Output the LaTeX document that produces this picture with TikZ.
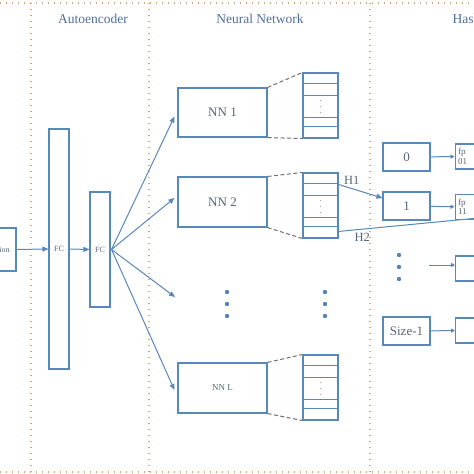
\documentclass[tikz,border=0pt]{standalone}
\usepackage{xcolor}
\usepackage{fontspec}
\setmainfont{Liberation Serif}
\usepackage{tikz}
\usetikzlibrary{arrows.meta, positioning}

\definecolor{lineblue}{RGB}{88,135,185}
\definecolor{txtgray}{RGB}{85,100,120}
\definecolor{hdrblue}{RGB}{80,110,150}
\definecolor{sepdot}{RGB}{210,170,120}
\definecolor{dashgray}{RGB}{110,110,110}
\definecolor{dotblue}{RGB}{85,130,190}

\begin{document}
\begin{tikzpicture}[x=1pt, y=1pt]

\tikzset{
  box/.style      = {rectangle, draw=lineblue, line width=1.1pt, inner sep=0pt,
                     text=txtgray},
  nnbox/.style    = {box, minimum width=89pt, minimum height=49pt,
                     font=\fontsize{13}{15}\selectfont},
  fcbox/.style    = {box, minimum width=20pt, font=\fontsize{8}{9}\selectfont},
  stackbox/.style = {box, minimum width=35pt, minimum height=65pt},
  hashbox/.style  = {box, minimum width=47pt, minimum height=28pt,
                     font=\fontsize{13}{15}\selectfont},
  fpbox/.style    = {box, anchor=west, minimum height=25pt, text width=24pt,
                     inner xsep=3pt, align=left, font=\fontsize{9}{9.5}\selectfont},
  arr/.style      = {-{Triangle[length=6pt,width=5pt]}, line width=1pt, lineblue},
  sarr/.style     = {-{Triangle[length=4pt,width=4pt]}, line width=1pt, lineblue},
  darr/.style     = {line width=1pt, dashgray, dash pattern=on 4pt off 2.5pt},
  sep/.style      = {line width=1.2pt, sepdot, dash pattern=on 1.2pt off 4.8pt},
  hdr/.style      = {font=\fontsize{13.5}{15}\selectfont, text=hdrblue},
  hlbl/.style     = {font=\fontsize{12.5}{14}\selectfont, text=txtgray}
}

\useasboundingbox (0,0) rectangle (474,-474);
\clip (0,0) rectangle (474,-474);

%% ── Column separators ───────────────────────────────────────────
\draw[sep] (0,-3)   -- (474,-3);
\draw[sep] (0,-472) -- (474,-472);
\foreach \x in {31,149,370}
  \draw[sep] (\x,-3) -- (\x,-472);

%% ── Column labels ───────────────────────────────────────────────
\node[hdr] at (93,  -19) {Autoencoder};
\node[hdr] at (260, -19) {Neural Network};
\node[hdr] at (483, -19) {Hash Table};

%% ── Autoencoder ─────────────────────────────────────────────────
\node[box, minimum width=59pt, minimum height=43pt,
      font=\fontsize{8}{9}\selectfont] (input) at (-13.5, -249.5) {Concatenation};
\node[fcbox, minimum height=240pt] (fc1) at (59,  -249)   {FC};
\node[fcbox, minimum height=115pt] (fc2) at (100, -249.5) {FC};

%% ── Neural networks ─────────────────────────────────────────────
\node[nnbox] (nn1) at (222.5, -112.5) {NN 1};
\node[nnbox, minimum height=50pt] (nn2) at (222.5, -202) {NN 2};
\node[nnbox, minimum height=50pt, font=\fontsize{9}{10}\selectfont]
      (nnL) at (222.5, -388) {NN L};
\coordinate (nndots) at (175, -297);

%% ── Output vectors ──────────────────────────────────────────────
\node[stackbox] (stack1) at (320.5, -105.5) {};
\node[stackbox] (stack2) at (320.5, -205.5) {};
\node[stackbox] (stackL) at (320.5, -387.5) {};
\foreach \s in {stack1,stack2,stackL} {
  \foreach \d in {11,23,45,54}
    \draw[lineblue, line width=1pt] ([yshift=-\d pt]\s.north west) -- ([yshift=-\d pt]\s.north east);
  \foreach \d in {28,34,40}
    \fill[black!35] ([yshift=-\d pt]\s.north) circle (0.6pt);
}

%% ── Vertical dots ───────────────────────────────────────────────
\foreach \x/\y in {227/292, 325/292, 399/255} {
  \foreach \k in {0,1,2}
    \fill[dotblue] (\x, -\y - 12*\k) circle (2.2pt);
}

%% ── Hash table ──────────────────────────────────────────────────
\node[hashbox] (hash0) at (406.5, -157) {0};
\node[hashbox] (hash1) at (406.5, -206) {1};
\node[hashbox] (hashS) at (406.5, -331) {Size-1};
\coordinate (hdots) at (429, -265);

\node[fpbox] (fp0) at (454.5, -156.5) {fp\\01};
\node[fpbox] (fp1) at (454.5, -207)   {fp\\11};
\node[fpbox] (fp2) at (455,   -268.5) {\phantom{fp}\\\phantom{00}};
\node[fpbox] (fp3) at (455,   -330.5) {\phantom{fp}\\\phantom{00}};
\coordinate (h2end) at (520, -214);

%% ── Arrows: autoencoder ─────────────────────────────────────────
\draw[arr] (input.east) -- (fc1.west);
\draw[arr] (fc1.east)   -- (fc2.west);

%% ── Arrows: fan out to networks ─────────────────────────────────
\draw[arr] ([xshift=1pt]fc2.east) -- ([xshift=-3pt,yshift=-4pt]nn1.west);
\draw[arr] ([xshift=1pt]fc2.east) -- ([xshift=-3pt,yshift=4pt]nn2.west);
\draw[arr] ([xshift=1pt]fc2.east) -- (nndots);
\draw[arr] ([xshift=1pt]fc2.east) -- ([xshift=-3pt,yshift=-2pt]nnL.west);

%% ── Dashed zoom lines ───────────────────────────────────────────
\foreach \n/\s in {nn1/stack1, nn2/stack2, nnL/stackL} {
  \draw[darr] (\n.north east) -- (\s.north west);
  \draw[darr] (\n.south east) -- (\s.south west);
}

%% ── Arrows: hashing ─────────────────────────────────────────────
\draw[arr] ([yshift=-12pt]stack2.north east) -- node[hlbl, above, pos=0.3] {H1}
           ([yshift=8pt]hash1.west);
\draw[arr] ([yshift=-59pt]stack2.north east) -- node[hlbl, below, pos=0.13] {H2}
           (h2end);

\draw[sarr] (hash0) -- (fp0);
\draw[sarr] (hash1) -- (fp1);
\draw[sarr] (hdots) -- (hdots -| fp2.west);
\draw[sarr] (hashS) -- (fp3);

\end{tikzpicture}
\end{document}
